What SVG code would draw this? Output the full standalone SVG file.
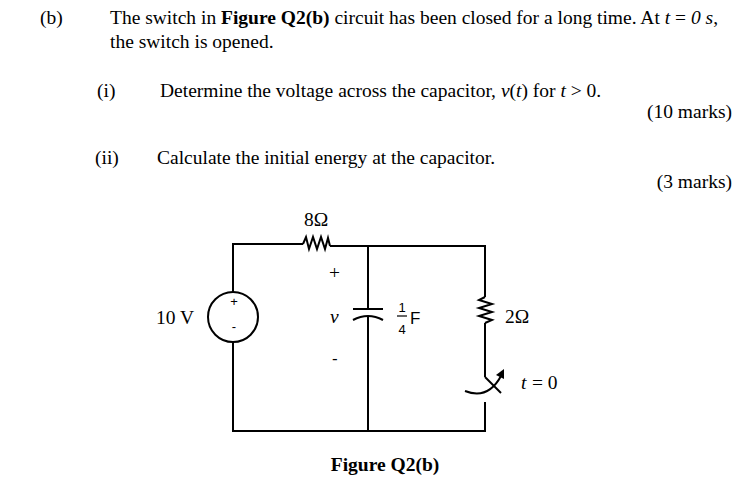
<svg xmlns="http://www.w3.org/2000/svg" width="752" height="498" viewBox="0 0 752 498">
<style>
.t{font-family:"Liberation Serif",serif;font-size:19.5px;fill:#000}
.w{fill:none;stroke:#000;stroke-width:2}
.s{font-family:"Liberation Sans",sans-serif;fill:#000}
</style>
<rect width="752" height="498" fill="#fff"/>
<text class="t" x="40" y="24">(b)</text>
<text class="t" x="110" y="24">The switch in <tspan font-weight="bold">Figure Q2(b)</tspan> circuit has been closed for a long time. At <tspan font-style="italic">t</tspan> = <tspan font-style="italic">0 s</tspan>,</text>
<text class="t" x="110" y="48">the switch is opened.</text>
<text class="t" x="97" y="97">(i)</text>
<text class="t" x="160" y="97">Determine the voltage across the capacitor, <tspan font-style="italic">v</tspan>(<tspan font-style="italic">t</tspan>) for <tspan font-style="italic">t</tspan> &gt; 0.</text>
<text class="t" x="732" y="118" text-anchor="end">(10 marks)</text>
<text class="t" x="95" y="164">(ii)</text>
<text class="t" x="157" y="164">Calculate the initial energy at the capacitor.</text>
<text class="t" x="732" y="188" text-anchor="end">(3 marks)</text>
<g id="connectors">
<path class="w" d="M303 244 H233 V292 M233 342 V431 H485 V402 M330 246 H485 V297 M485 323 V377 M368 246 V309 M368 317 V431"/>
</g>
<g id="r8">
<path class="w" d="M303 244 L306 237 L309 249 L313 237 L317 249 L321 237 L325 249 L328 238 L330 246" stroke-width="1.6"/>
<text class="t" x="316" y="226" text-anchor="middle">8Ω</text>
</g>
<g id="source">
<circle class="w" cx="233" cy="317" r="25"/>
<text class="s" x="234" y="306" font-size="13" text-anchor="middle">+</text>
<text class="s" x="234" y="331" font-size="13" text-anchor="middle">-</text>
<text class="t" x="156" y="324">10 V</text>
</g>
<g id="cap">
<path class="w" d="M353 309 H383 M353 320 Q368 312 383 320"/>
<text class="t" x="329" y="279">+</text>
<text class="t" x="330" y="323" font-style="italic">v</text>
<text class="s" x="332" y="364" font-size="17">-</text>
<text class="s" x="402" y="312" font-size="13" text-anchor="middle">1</text>
<path d="M397 316 H407" stroke="#000" stroke-width="1.2"/>
<text class="s" x="402" y="334" font-size="13" text-anchor="middle">4</text>
<text class="s" x="410" y="324" font-size="17">F</text>
</g>
<g id="r2">
<path class="w" d="M485 297 L479 300 L492 304 L479 308 L492 312 L479 316 L492 320 L485 323" stroke-width="1.6"/>
<text class="t" x="505" y="323">2Ω</text>
</g>
<g id="switch">
<path class="w" d="M485 377 L501 393" stroke-width="1.6"/>
<path class="w" d="M465 391 Q488 400 501 376" stroke-width="1.6"/>
<path d="M504 369 L496 375 L504 379 Z" fill="#000"/>
<text class="t" x="521" y="389" font-style="italic">t</text>
<text class="t" x="532" y="389">= 0</text>
</g>
<text class="t" x="385" y="471" text-anchor="middle" font-weight="bold">Figure Q2(b)</text>
</svg>
